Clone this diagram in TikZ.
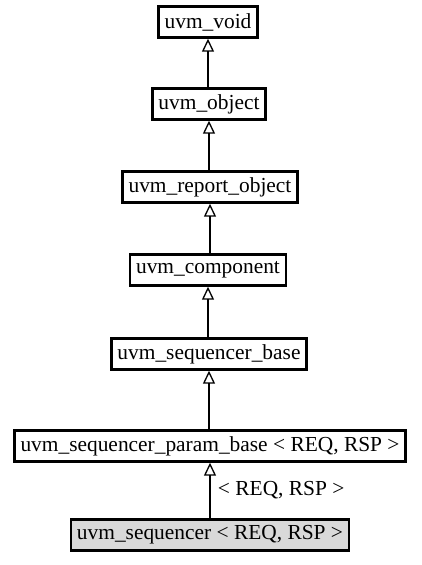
\documentclass[tikz,border=0pt]{standalone}
\usepackage{fontspec}
\setmainfont{Liberation Serif}
\usetikzlibrary{arrows.meta, positioning}
\definecolor{leafgray}{RGB}{217, 217, 217}

\begin{document}
\begin{tikzpicture}[x=1pt, y=-1pt,
    classbox/.style={draw, line width=2.4pt, fill=white, inner xsep=6pt, inner ysep=0pt,
      minimum height=31pt, font=\fontsize{21.4}{25}\selectfont},
    inherit/.style={line width=1.3pt, -{Triangle[open, length=13pt, width=12pt, line width=1.3pt]}}]
  \useasboundingbox (0, 0) rectangle (421, 565);

  % class boxes, top to bottom
  \node[classbox] (void) at (208, 22) {uvm\_void};
  \node[classbox] (object) at (209, 104) {uvm\_object};
  \node[classbox] (report) at (210, 187) {uvm\_report\_object};
  \node[classbox] (component) at (208, 270) {uvm\_component};
  \node[classbox] (seqbase) at (209, 354) {uvm\_sequencer\_base};
  \node[classbox] (parambase) at (210, 446) {uvm\_sequencer\_param\_base < REQ, RSP >};
  \node[classbox, fill=leafgray] (sequencer) at (210, 535) {uvm\_sequencer < REQ, RSP >};

  % inheritance arrows
  \draw[inherit] (object.north -| void.south) -- (void.south);
  \draw[inherit] (report.north -| object.south) -- (object.south);
  \draw[inherit] (component.north -| report.south) -- (report.south);
  \draw[inherit] (seqbase.north -| component.south) -- (component.south);
  \draw[inherit] (parambase.north -| seqbase.south) -- (seqbase.south);
  \draw[inherit] (sequencer.north -| parambase.south) -- (parambase.south)
    node[pos=0.5, right=4pt, font=\fontsize{21.4}{25}\selectfont] (tparams) {< REQ, RSP >};
\end{tikzpicture}
\end{document}
